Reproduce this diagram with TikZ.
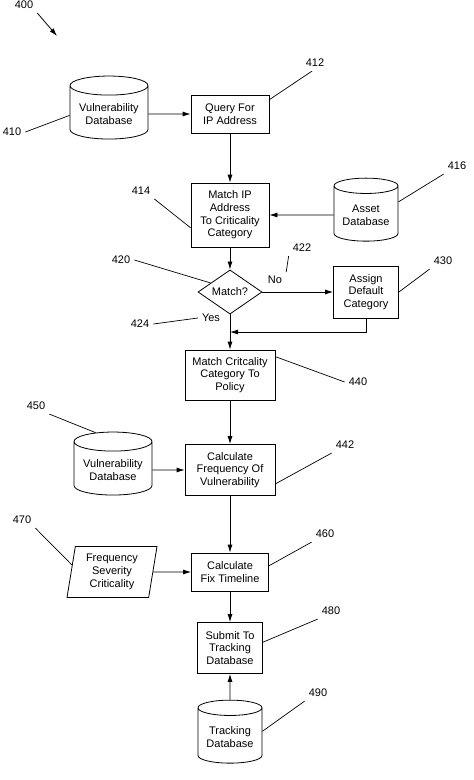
\documentclass[tikz,border=0pt]{standalone}
\usepackage{fontspec}
\setmainfont{Liberation Sans}
\usetikzlibrary{arrows.meta,shapes,calc}
\usetikzlibrary{positioning}
\tikzstyle{arrow}=[draw,-{Latex[length=8pt,width=5pt]},line width=0.8pt]
\tikzstyle{lead}=[draw,line width=0.7pt]
\tikzstyle{block} =
  [rectangle, draw, line width=0.8pt, text centered, align=center,
   minimum width=78pt, minimum height=38pt, inner sep=2pt]
\tikzstyle{dbase} =
  [cylinder, shape border rotate=90, draw, line width=0.8pt, aspect=0.3,
   align=center, minimum width=78pt, minimum height=63pt, inner sep=2pt]
\tikzstyle{decision} =
  [diamond, draw, line width=0.8pt, minimum width=64pt, minimum height=38pt,
   inner sep=0pt]
\tikzstyle{slant} =
  [trapezium, trapezium left angle=78, trapezium right angle=102,
   trapezium stretches body, draw, line width=0.8pt, align=center,
   minimum width=90pt, minimum height=51pt, inner sep=2pt]
\tikzstyle{num}=[inner sep=4pt]

\begin{document}
\begin{tikzpicture}[x=1pt, y=1pt, font=\fontsize{11}{12.7}\selectfont]
  \useasboundingbox (0,0) rectangle (474,-780);

  \node [dbase] (vdb) at (109,-114) {Vulnerability\\Database};
  \node [block, right of=vdb, node distance=121pt] (query) {Query For\\IP Address};
  \node [block, below of=query, node distance=101pt, minimum height=64pt] (matchip)
    {Match IP\\Address\\To Criticality\\Category};
  \node [dbase, right of=matchip, node distance=136pt, minimum width=64pt] (asset)
    {Asset\\Database};
  \node [decision, below of=matchip, node distance=77pt] (match) {Match?};
  \node [block, right of=match, node distance=136pt, minimum width=65pt,
    minimum height=52pt] (assign) {Assign\\Default\\Category};
  \node [block, below of=match, node distance=83pt, minimum width=90pt,
    minimum height=50pt] (policy) {Match Critcality\\Category To\\Policy};
  \node [block, below of=policy, node distance=95pt, minimum width=90pt,
    minimum height=51pt] (freq) {Calculate\\Frequency Of\\Vulnerability};
  \node [dbase, left of=freq, node distance=117pt] (vdbb) {Vulnerability\\Database};
  \node [block, below of=freq, node distance=102pt, minimum width=77pt] (fix)
    {Calculate\\Fix Timeline};
  \node [slant, left of=fix, node distance=118pt] (fsc)
    {Frequency\\Severity\\Criticality};
  \node [block, below of=fix, node distance=76pt, minimum width=65pt,
    minimum height=51pt] (submit) {Submit To\\Tracking\\Database};
  \node [dbase, below of=submit, node distance=89pt, minimum width=64pt] (track)
    {Tracking\\Database};

  \node [num] (no) at (275,-280) {No};
  \node [num] (yes) at (211,-318) {Yes};

  \draw [arrow] (vdb) to (query);
  \draw [arrow] (query) to (matchip);
  \draw [arrow] (asset) to (matchip);
  \draw [arrow] (matchip) to (match);
  \draw [arrow] (match) to (assign);
  \draw [arrow] (match) to (policy);
  \draw [arrow] (assign.south) |- ($(match.south)!0.5!(policy.north)$);
  \draw [arrow] (policy) to (freq);
  \draw [arrow] (vdbb) to (freq);
  \draw [arrow] (freq) to (fix);
  \draw [arrow] (fsc) to (fix);
  \draw [arrow] (fix) to (submit);
  \draw [arrow] (track) to (submit);

  % reference numerals
  \node [num] (n400) at (24,-5) {400};
  \coordinate (a400) at (57,-36);
  \draw [arrow] (n400.south east) to (a400);
  \node [num] (n410) at (12,-132) {410};
  \draw [lead] (n410.east) to (vdb.182);
  \node [num] (n412) at (315,-63) {412};
  \draw [lead] (n412.250) to (query.20);
  \node [num] (n414) at (141,-191) {414};
  \draw [lead] (n414.south east) to (matchip.198);
  \node [num] (n416) at (457,-166) {416};
  \draw [lead] (n416.south west) to (asset.22);
  \node [num] (n420) at (121,-260) {420};
  \draw [lead] (n420.east) to (match.155);
  \node [num] (n422) at (302,-248) {422};
  \draw [lead] (n422.south west) to (no.north east);
  \node [num] (n430) at (443,-261) {430};
  \draw [lead] (n430.south west) to (assign.east);
  \node [num] (n424) at (140,-324) {424};
  \draw [lead] (n424.east) to (yes.west);
  \node [num] (n440) at (358,-382) {440};
  \draw [lead] (n440.west) to (policy.22);
  \node [num] (n450) at (36,-406) {450};
  \draw [lead] (n450.south east) to (vdbb.115);
  \node [num] (n442) at (345,-445) {442};
  \draw [lead] (n442.south west) to (freq.343);
  \node [num] (n470) at (22,-520) {470};
  \draw [lead] (n470.south east) to (fsc.170);
  \node [num] (n460) at (325,-534) {460};
  \draw [lead] (n460.south west) to (fix.9);
  \node [num] (n480) at (331,-611) {480};
  \draw [lead] (n480.south west) to (submit.10);
  \node [num] (n490) at (318,-693) {490};
  \draw [lead] (n490.south west) to (track.10);
\end{tikzpicture}
\end{document}
